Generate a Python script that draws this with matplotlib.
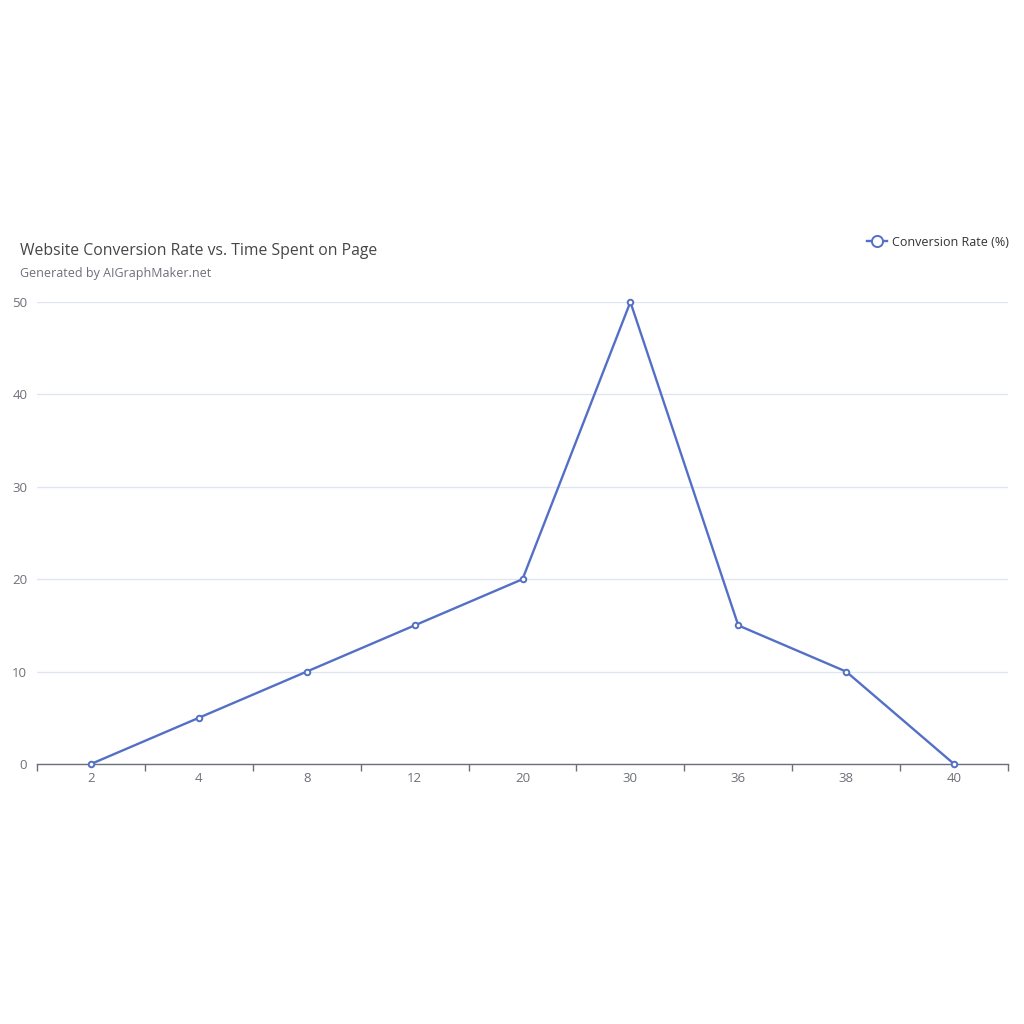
import matplotlib
matplotlib.use("Agg")
import matplotlib.pyplot as plt

# data
time_labels = ["2", "4", "8", "12", "20", "30", "36", "38", "40"]
conversion_rate = [0, 5, 10, 15, 20, 50, 15, 10, 0]
y_ticks = [0, 10, 20, 30, 40, 50]

LINE = "#5470C6"
TEXT = "#6E7079"
GRID = "#E0E6F1"

plt.rcParams["font.family"] = ["Open Sans", "DejaVu Sans"]

fig = plt.figure(figsize=(10.24, 10.24), dpi=100)
ax = fig.add_axes((37 / 1024, 1 - 764 / 1024, (1008 - 37) / 1024, (764 - 302) / 1024))

x = list(range(len(time_labels)))
ax.plot(x, conversion_rate, color=LINE, lw=1.7, marker="o", ms=4,
        mfc="white", mec=LINE, mew=1.4, label="Conversion Rate (%)",
        zorder=3, clip_on=False)

ax.set_xlim(-0.5, len(time_labels) - 0.5)
ax.set_ylim(0, 50)
ax.set_yticks(y_ticks)
ax.set_xticks(x)
ax.set_xticklabels(time_labels)
# boundary ticks between categories, like the original
ax.set_xticks([i - 0.5 for i in range(len(time_labels) + 1)], minor=True)
ax.tick_params(axis="x", which="major", length=0, pad=6, labelsize=9.5, labelcolor=TEXT)
ax.tick_params(axis="x", which="minor", length=5, color=TEXT, width=1)
ax.tick_params(axis="y", length=0, pad=7, labelsize=9.5, labelcolor=TEXT)

ax.grid(axis="y", color=GRID, lw=1)
ax.set_axisbelow(True)
for side in ["top", "right", "left"]:
    ax.spines[side].set_visible(False)
ax.spines["bottom"].set_color(TEXT)
ax.spines["bottom"].set_linewidth(1)

fig.text(20 / 1024, 1 - 251 / 1024, "Website Conversion Rate vs. Time Spent on Page",
         fontsize=11.3, color="#464646", va="center", ha="left")
fig.text(20 / 1024, 1 - 274 / 1024, "Generated by AIGraphMaker.net",
         fontsize=9, color=TEXT, va="center", ha="left")

fig.legend(loc="center right", bbox_to_anchor=(1020 / 1024, 1 - 242 / 1024),
           frameon=False, fontsize=9, labelcolor="#333333", handlelength=1.6,
           handletextpad=0.4, markerscale=2)

fig.savefig("out.png", dpi=100, facecolor="white")
